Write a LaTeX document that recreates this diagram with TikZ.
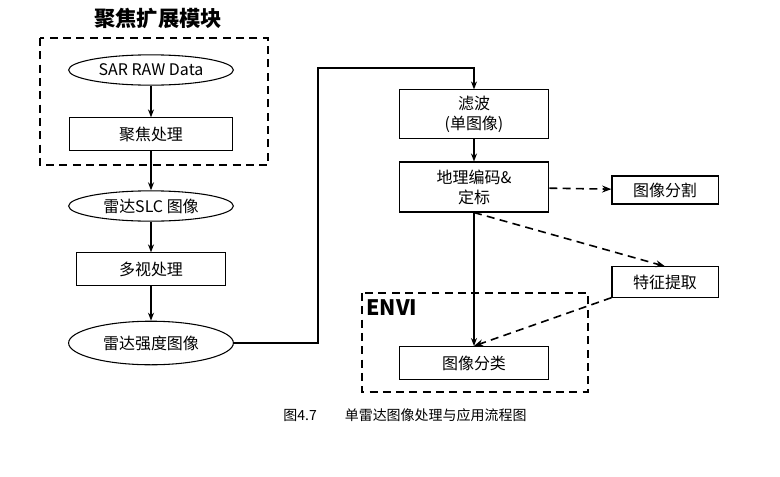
\documentclass[tikz,border=0pt]{standalone}
\usepackage{fontspec}
\setmainfont{Noto Sans CJK SC}
\usetikzlibrary{positioning,shapes.geometric,arrows.meta}
\begin{document}
\begin{tikzpicture}[x=0.0264cm,y=-0.0264cm,
    every node/.style={font=\fontsize{12}{15}\selectfont},
    box/.style={rectangle,draw,thick,minimum height=0.5cm,align=center,inner sep=1pt},
    oval/.style={ellipse,draw,thick,minimum width=4.35cm,inner sep=1pt},
    dsh/.style={dash pattern=on 6pt off 4pt},
    arr/.style={-{Stealth[length=6pt]},very thick},
    darr/.style={-{Stealth[length=7pt]},very thick,dsh}]
    \useasboundingbox (0,0) rectangle (780,477);

    \draw[thick,dsh] (40,38) rectangle (268,165);
    \node[font=\fontsize{16}{18}\selectfont\bfseries] (title) at (158,18) {聚焦扩展模块};
    \node[oval,minimum height=0.8cm] (raw) at (151,70) {SAR RAW Data};
    \node[box,minimum width=4.3cm,minimum height=0.85cm] (foc) at (151,134) {聚焦处理};
    \node[oval,minimum height=0.8cm] (slc) at (151,206) {雷达SLC 图像};
    \node[box,minimum width=3.95cm,minimum height=0.85cm] (ml) at (151,269) {多视处理};
    \node[oval,minimum height=1.15cm] (amp) at (151,343) {雷达强度图像};

    \node[box,minimum width=3.95cm,minimum height=1.27cm] (filt) at (474,114) {滤波\\(单图像)};
    \node[box,minimum width=3.95cm,minimum height=1.32cm] (geo) at (474,187) {地理编码\&\\定标};
    \node[box,minimum width=2.8cm,minimum height=0.74cm] (seg) at (665,190) {图像分割};
    \node[box,minimum width=2.8cm,minimum height=0.8cm] (feat) at (665,282) {特征提取};
    \node[box,minimum width=3.95cm,minimum height=0.87cm] (cls) at (474,363) {图像分类};

    \draw[thick,dsh] (362,293) rectangle (588,392);
    \node[font=\fontsize{16}{18}\selectfont\bfseries] (envi) at (392,308) {ENVI};

    \coordinate (c1) at (318,343);
    \coordinate (c2) at (318,68);
    \coordinate (c3) at (474,68);

    \draw[arr] (raw)--(foc);
    \draw[arr] (foc)--(slc);
    \draw[arr] (slc)--(ml);
    \draw[arr] (ml)--(amp);
    \draw[arr] (amp.east)--(c1)--(c2)--(c3)--(filt);
    \draw[arr] (filt)--(geo);
    \draw[arr] (geo)--(cls);
    \draw[darr] (geo)--(seg);
    \draw[darr] (geo.south)--(feat.north);
    \draw[darr] (feat.south west)--(cls.north);

    \node[font=\fontsize{10.5}{12}\selectfont] (cap) at (405,415) {图4.7\qquad 单雷达图像处理与应用流程图};
\end{tikzpicture}
\end{document}
